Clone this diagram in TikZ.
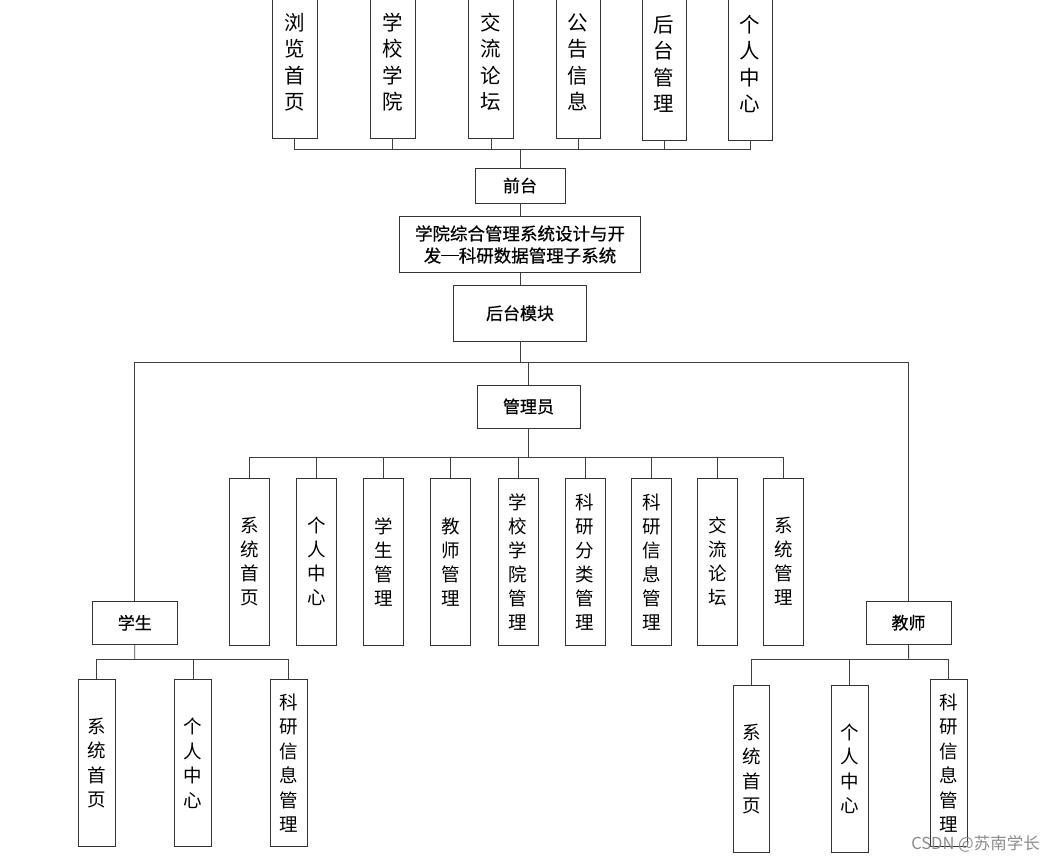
\documentclass[tikz,border=0pt]{standalone}
\usepackage{fontspec}
\newfontfamily\cjk{Noto Sans CJK SC}
\newfontfamily\cjkm[FakeBold=0.5]{Noto Sans CJK SC}
\begin{document}
\begin{tikzpicture}[x=1pt,y=-1pt,
  box/.style={draw=black!80, line width=0.9pt, inner sep=0pt, align=center, fill=white},
  conn/.style={draw=black!75, line width=0.9pt},
  topv/.style={box, minimum width=44.5pt, minimum height=152pt, font=\cjk\fontsize{20.5}{26.5}\selectfont},
  midv/.style={box, minimum width=40pt, minimum height=166.7pt, font=\cjk\fontsize{18.5}{24}\selectfont},
  lowv/.style={box, minimum height=167pt, font=\cjk\fontsize{18.5}{24.5}\selectfont},
  label/.style={box, font=\cjkm\fontsize{17}{22}\selectfont}]
\useasboundingbox (0,0) rectangle (1060,862);
\begin{scope}
\clip (0,0) rectangle (1060,862);
% top boxes
\node[topv] (t1) at (294.7,62) {浏\\览\\首\\页};
\node[topv] (t2) at (392.7,62) {学\\校\\学\\院};
\node[topv] (t3) at (491,62) {交\\流\\论\\坛};
\node[topv] (t4) at (578.2,62) {公\\告\\信\\息};
\node[topv] (t5) at (664.2,64) {后\\台\\管\\理};
\node[topv] (t6) at (750.2,64) {个\\人\\中\\心};
\end{scope}
% front
\node[label, minimum width=90pt, minimum height=35pt] (front) at (520,185.5) {前台};
\coordinate (fb) at (520,149);
\draw[conn] (front.north) -- (fb);
\foreach \n in {t1,t2,t3,t4,t5,t6} \draw[conn] (\n.south) |- (fb);
% title
\node[label, minimum width=241.4pt, minimum height=55.6pt, font=\cjkm\fontsize{17.5}{22}\selectfont] (title) at (520,244.5) {学院综合管理系统设计与开\\发─科研数据管理子系统};
\draw[conn] (front.south) -- (title.north);
% back
\node[label, minimum width=133.4pt, minimum height=55.3pt] (back) at (520,313.3) {后台模块};
\draw[conn] (title.south) -- (back.north);
\coordinate (hb) at (520,362);
\draw[conn] (back.south) -- (hb);
% admin
\node[label, minimum width=103pt, minimum height=43pt] (admin) at (528.5,406.5) {管理员};
\node[label, minimum width=85pt, minimum height=42.3pt] (stu) at (134.8,622.8) {学生};
\node[label, minimum width=85pt, minimum height=42.3pt] (tea) at (908.5,622.8) {教师};
\draw[conn] (admin.north) |- (hb);
\draw[conn] (stu.north) |- (hb);
\draw[conn] (tea.north) |- (hb);
% admin children
\node[midv] (m1) at (249.3,561.7) {系\\统\\首\\页};
\node[midv] (m2) at (316.7,561.7) {个\\人\\中\\心};
\node[midv] (m3) at (383.5,561.7) {学\\生\\管\\理};
\node[midv] (m4) at (450.5,561.7) {教\\师\\管\\理};
\node[midv] (m5) at (518,561.7) {学\\校\\学\\院\\管\\理};
\node[midv] (m6) at (585,561.7) {科\\研\\分\\类\\管\\理};
\node[midv] (m7) at (651.5,561.7) {科\\研\\信\\息\\管\\理};
\node[midv] (m8) at (717.3,561.7) {交\\流\\论\\坛};
\node[midv] (m9) at (783.3,561.7) {系\\统\\管\\理};
\coordinate (ab) at (528.5,457.5);
\draw[conn] (admin.south) -- (ab);
\foreach \n in {m1,m2,m3,m4,m5,m6,m7,m8,m9} \draw[conn] (\n.north) |- (ab);
% student children
\node[lowv, minimum width=36.4pt] (s1) at (96.9,763.3) {系\\统\\首\\页};
\node[lowv, minimum width=36.4pt] (s2) at (193,763.3) {个\\人\\中\\心};
\node[lowv, minimum width=36.4pt] (s3) at (288.9,763.3) {科\\研\\信\\息\\管\\理};
\coordinate (sb) at (134.7,659);
\draw[conn] (stu.south) -- (sb);
\foreach \n in {s1,s2,s3} \draw[conn] (\n.north) |- (sb);
% teacher children
\node[lowv, minimum width=36pt, minimum height=166.6pt] (e1) at (751.3,769) {系\\统\\首\\页};
\node[lowv, minimum width=37.3pt, minimum height=166.6pt] (e2) at (849.7,769) {个\\人\\中\\心};
\node[lowv, minimum width=37.3pt] (e3) at (948.7,763.3) {科\\研\\信\\息\\管\\理};
\coordinate (eb) at (908.7,659);
\draw[conn] (tea.south) -- (eb);
\foreach \n in {e1,e2,e3} \draw[conn] (\n.north) |- (eb);
% watermark
\node[text=black!45, font=\cjk\fontsize{16.5}{19}\selectfont, inner sep=0pt] (wm) at (975.5,844) {CSDN @苏南学长};
\end{tikzpicture}
\end{document}
